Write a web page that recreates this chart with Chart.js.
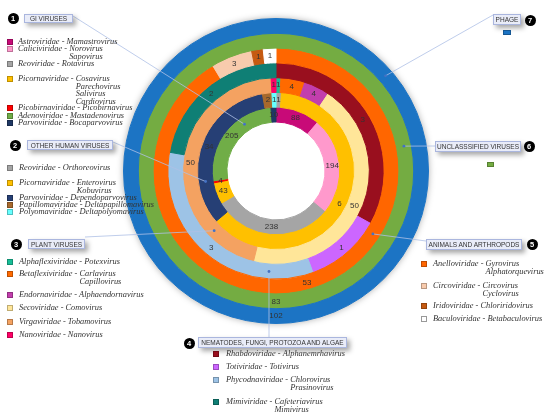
<!DOCTYPE html>
<html>
<head>
<meta charset="utf-8">
<script src="https://cdn.jsdelivr.net/npm/chart.js@4.4.1/dist/chart.umd.min.js"></script>
<style>
body{margin:0;background:#fff;}
#wrap{position:relative;width:550px;height:416px;overflow:hidden;font-family:"Liberation Serif",serif;}
#wrap canvas{position:absolute;left:0;top:0;}
.box{position:absolute;background:#e9ecf8;border:1px solid #aab6de;box-shadow:3px 3px 5px rgba(0,0,0,.35);font:6.5px "Liberation Sans",sans-serif;color:#333;display:flex;align-items:center;justify-content:center;box-sizing:border-box;white-space:nowrap;}
.num{position:absolute;width:11px;height:11px;border-radius:50%;background:#000;color:#fff;font:bold 7.5px "Liberation Sans",sans-serif;display:flex;align-items:center;justify-content:center;}
.row{position:absolute;font-style:italic;font-size:8.4px;line-height:7.5px;color:#333;white-space:nowrap;}
.sq{position:absolute;width:6px;height:6px;box-sizing:border-box;border:1px solid rgba(0,0,0,.25);}
.gen{display:inline-block;vertical-align:top;}
</style>
</head>
<body>
<div id="wrap"><canvas id="c" width="550" height="416"></canvas></div>
<script>
// ring 1 (inner) - GI viruses, arcs drawn in proportion to the counts
var giFamilies = ['Astroviridae', 'Caliciviridae', 'Reoviridae', 'Picornaviridae', 'Picobirnaviridae', 'Adenoviridae', 'Parvoviridae'];
var giGenera = [['Mamastrovirus'], ['Norovirus', 'Sapovirus'], ['Rotavirus'], ['Cosavirus', 'Parechovirus', 'Salivirus', 'Cardiovirus'], ['Picobirnavirus'], ['Mastadenovirus'], ['Bocaparvovirus']];
var giCounts = [88, 194, 238, 43, 4, 205, 10];
var giColors = ['#C80A78', '#FF99CC', '#A5A5A5', '#FFC000', '#FF0000', '#70AD47', '#1F3864'];

// ring 2 - other human viruses (arc = share of ring in degrees as drawn)
var humanFamilies = ['Reoviridae', 'Picornaviridae', 'Parvoviridae', 'Papillomaviridae', 'Polyomaviridae'];
var humanGenera = [['Orthoreovirus'], ['Enterovirus', 'Kobuvirus'], ['Dependoparvovirus'], ['Deltapapillomavirus'], ['Deltapolyomavirus']];
var humanCounts = [1, 6, 34, 2, 1];
var humanArc = [4, 226, 120, 7, 3];
var humanColors = ['#A5A5A5', '#FFC000', '#263F75', '#A8692C', '#66FFFF'];

// ring 3 - plant viruses
var plantFamilies = ['Alphaflexiviridae', 'Betaflexiviridae', 'Endornaviridae', 'Secoviridae', 'Virgaviridae', 'Nanoviridae'];
var plantGenera = [['Potexvirus'], ['Carlavirus', 'Capillovirus'], ['Alphaendornavirus'], ['Comovirus'], ['Tobamovirus'], ['Nanovirus']];
var plantCounts = [1, 4, 4, 50, 50, 1];
var plantArc = [3, 15, 16, 160, 163, 3];
var plantColors = ['#17BE97', '#FF6A00', '#C23EAD', '#FFE699', '#F4A261', '#FF0066'];

// ring 4 - nematodes, fungi, protozoa and algae
var nemaFamilies = ['Rhabdoviridae', 'Totiviridae', 'Phycodnaviridae', 'Mimiviridae'];
var nemaGenera = [['Alphanemrhavirus'], ['Totivirus'], ['Chlorovirus', 'Prasinovirus'], ['Cafeteriavirus', 'Mimivirus']];
var nemaCounts = [3, 1, 3, 2];
var nemaArc = [119, 41, 120, 80];
var nemaColors = ['#990F1E', '#CC66FF', '#9DC3E6', '#0F7F75'];

// ring 5 - animals and arthropods
var animalFamilies = ['Anelloviridae', 'Circoviridae', 'Iridoviridae', 'Baculoviridae'];
var animalGenera = [['Gyrovirus', 'Alphatorquevirus'], ['Circovirus', 'Cyclovirus'], ['Chloriridovirus'], ['Betabaculovirus']];
var animalCounts = [53, 3, 1, 1];
var animalArc = [329, 19.5, 5.5, 6];
var animalColors = ['#FF6600', '#F8CBAD', '#C55A11', '#FFFFFF'];

// ring 6 and 7
var unclCounts = [83];
var unclColors = ['#74AC42'];
var phageCounts = [102];
var phageColors = ['#1C74C4'];

var groupTitles = ['GI VIRUSES', 'OTHER HUMAN VIRUSES', 'PLANT VIRUSES', 'NEMATODES, FUNGI, PROTOZOA AND ALGAE', 'ANIMALS AND ARTHROPODS', 'UNCLASSSIFIED VIRUSES', 'PHAGE'];

var wrap = document.getElementById('wrap');
function add(html) { wrap.insertAdjacentHTML('beforeend', html); }

// title boxes, numbers, legend lists
var boxes = [
  {x: 24, y: 14, w: 49, h: 9, n: [13, 18]},
  {x: 27, y: 140, w: 86, h: 10, n: [15, 145]},
  {x: 28, y: 239, w: 57, h: 10, n: [16, 244]},
  {x: 198, y: 337, w: 149, h: 11, n: [189, 343]},
  {x: 426, y: 239, w: 96, h: 11, n: [532, 244]},
  {x: 435, y: 141, w: 86, h: 11, n: [529, 146]},
  {x: 493, y: 14, w: 28, h: 11, n: [530, 20]}
];
boxes.forEach(function (b, i) {
  add('<div class="box" style="left:' + b.x + 'px;top:' + b.y + 'px;width:' + b.w + 'px;height:' + b.h + 'px">' + groupTitles[i] + '</div>');
  add('<div class="num" style="left:' + (b.n[0] - 5.5) + 'px;top:' + (b.n[1] - 5.5) + 'px">' + (i + 1) + '</div>');
});

var lists = [
  {fam: giFamilies, gen: giGenera, col: giColors, sx: 7, tx: 18, ys: [42, 49, 64, 79, 108, 116, 123]},
  {fam: humanFamilies, gen: humanGenera, col: humanColors, sx: 7, tx: 19, ys: [168, 183, 198, 205, 212]},
  {fam: plantFamilies, gen: plantGenera, col: plantColors, sx: 7, tx: 19, ys: [262, 274, 295, 308, 322, 335]},
  {fam: nemaFamilies, gen: nemaGenera, col: nemaColors, sx: 213, tx: 226, ys: [354, 367, 380, 402]},
  {fam: animalFamilies, gen: animalGenera, col: animalColors, sx: 421, tx: 433, ys: [264, 286, 306, 319]}
];
lists.forEach(function (l) {
  l.fam.forEach(function (f, j) {
    var y = l.ys[j];
    var border = l.col[j] === '#FFFFFF' ? 'border-color:#999;' : '';
    add('<div class="sq" style="left:' + l.sx + 'px;top:' + (y - 3) + 'px;background:' + l.col[j] + ';' + border + '"></div>');
    add('<div class="row" style="left:' + l.tx + 'px;top:' + (y - 3.75) + 'px"><span>' + f + ' -&nbsp;</span><span class="gen">' + l.gen[j].join('<br>') + '</span></div>');
  });
});
add('<div class="sq" style="left:487px;top:162px;width:7px;height:5px;background:' + unclColors[0] + '"></div>');
add('<div class="sq" style="left:503px;top:30px;width:8px;height:5px;background:' + phageColors[0] + '"></div>');

function ring(arc, counts, colors) {
  return {data: arc, counts: counts, backgroundColor: colors, borderColor: colors, borderWidth: 1};
}

// value labels in the middle of each arc
var ringLabels = {
  id: 'ringLabels',
  beforeDatasetsDraw: function (chart) {
    var a = chart.getDatasetMeta(0).data[0];
    var ctx = chart.ctx;
    ctx.save();
    ctx.shadowColor = 'rgba(0,0,0,0.35)';
    ctx.shadowBlur = 7;
    ctx.fillStyle = '#fff';
    ctx.beginPath();
    ctx.arc(a.x, a.y, a.outerRadius, 0, Math.PI * 2);
    ctx.fill();
    ctx.restore();
  },
  afterDatasetsDraw: function (chart) {
    var ctx = chart.ctx;
    ctx.save();
    ctx.font = '8px "Liberation Sans Narrow", "Liberation Sans", sans-serif';
    ctx.fillStyle = '#333';
    ctx.textAlign = 'center';
    ctx.textBaseline = 'middle';
    chart.data.datasets.forEach(function (ds, i) {
      chart.getDatasetMeta(i).data.forEach(function (arc, j) {
        var p = arc.tooltipPosition();
        ctx.fillText(ds.counts[j], p.x, p.y);
      });
    });
    ctx.restore();
  }
};

// leader lines from the title boxes to their ring
var leaders = [
  {from: [73, 16], ds: 6, deg: 326},
  {from: [113, 142], ds: 5, deg: 261.5},
  {from: [85, 237], ds: 4, deg: 226},
  {from: [269, 337], ds: 3, deg: 184},
  {from: [426, 241], ds: 2, deg: 123},
  {from: [435, 146], ds: 1, deg: 79},
  {from: [493, 15], ds: 0, deg: 49}
];
var leaderPlugin = {
  id: 'leaders',
  afterDraw: function (chart) {
    var ctx = chart.ctx;
    ctx.save();
    leaders.forEach(function (l) {
      var arc = chart.getDatasetMeta(l.ds).data[0];
      var r = (arc.innerRadius + arc.outerRadius) / 2;
      var a = (l.deg - 90) * Math.PI / 180;
      var x = arc.x + r * Math.cos(a), y = arc.y + r * Math.sin(a);
      ctx.strokeStyle = '#AFC0E6';
      ctx.lineWidth = 0.8;
      ctx.beginPath();
      ctx.moveTo(l.from[0], l.from[1]);
      ctx.lineTo(x, y);
      ctx.stroke();
      ctx.fillStyle = '#4472C4';
      ctx.beginPath();
      ctx.arc(x, y, 1.4, 0, Math.PI * 2);
      ctx.fill();
    });
    ctx.restore();
  }
};

new Chart(document.getElementById('c'), {
  type: 'doughnut',
  data: {
    datasets: [
      ring([360], phageCounts, phageColors),
      ring([360], unclCounts, unclColors),
      ring(animalArc, animalCounts, animalColors),
      ring(nemaArc, nemaCounts, nemaColors),
      ring(plantArc, plantCounts, plantColors),
      ring(humanArc, humanCounts, humanColors),
      ring(giCounts, giCounts, giColors)
    ]
  },
  options: {
    responsive: false,
    animation: false,
    cutout: 49,
    layout: {padding: {left: 123, right: 121, top: 18, bottom: 92}},
    plugins: {legend: {display: false}, tooltip: {enabled: false}}
  },
  plugins: [ringLabels, leaderPlugin]
});
</script>
</body>
</html>
